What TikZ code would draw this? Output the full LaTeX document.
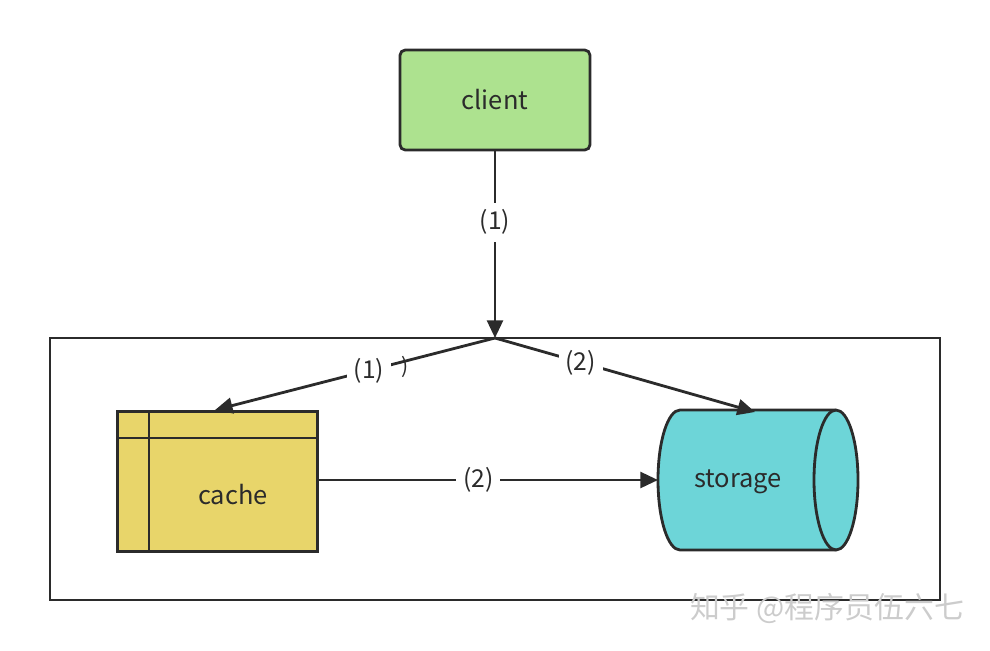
\documentclass[tikz,border=0pt]{standalone}
\usepackage{fontspec}
\setmainfont{Noto Sans CJK SC}
\usetikzlibrary{arrows.meta,shapes.geometric}
\definecolor{cl}{HTML}{ADE28F}
\definecolor{ca}{HTML}{E8D56A}
\definecolor{st}{HTML}{6DD5D8}
\definecolor{ln}{HTML}{2B2B2B}
\begin{document}
\begin{tikzpicture}[x=0.02cm,y=-0.02cm,
  box/.style={draw=ln,line width=1.6pt},
  conn/.style={draw=ln,line width=1.6pt},
  arr/.style={conn,-{Triangle[length=10pt,width=9pt]}},
  lab/.style={fill=white,inner sep=4pt,font=\fontsize{14}{16}\selectfont,text=ln},
  txt/.style={font=\fontsize{14.5}{16}\selectfont,text=ln}]
\useasboundingbox (0,0) rectangle (990,650);
\node[box,fill=cl,rounded corners=3pt,minimum width=190*0.02cm,minimum height=100*0.02cm,txt] (client) at (495,100) {client};
\draw[draw=ln,line width=1.4pt] (50,338) rectangle (940,600);
\coordinate (j) at (495,338);
\draw[arr] (client.south) -- node[lab,pos=0.38]{(1)} (j);
\node[box,fill=ca,minimum width=200*0.02cm,minimum height=140*0.02cm,anchor=north west] (cache) at (116,410) {};
\draw[conn] (116,438) -- (316,438) (149,410) -- (149,550);
\node[txt] at (233,495) {cache};
\path[box,fill=st] (680,410) -- (836,410) arc[start angle=-90,end angle=90,x radius=22,y radius=70] -- (680,550) arc[start angle=90,end angle=270,x radius=22,y radius=70] -- cycle;
\draw[box] (836,410) arc[start angle=-90,end angle=-270,x radius=22,y radius=70];
\node[txt] (storage) at (738,482) {storage};
\coordinate (stt) at (755,412);
\coordinate (cat) at (215,410);
\coordinate (stl) at (658,480);
\draw[arr] (j) -- node[lab,pos=0.45]{(1)} (cat);
\node[font=\fontsize{12}{14}\selectfont,text=ln] at (405,367) {)};
\draw[arr] (j) -- node[lab,pos=0.33]{(2)} (stt);
\draw[arr] (cache.east |- 0,480) -- node[lab,pos=0.47]{(2)} (stl);
\node[text=gray!40,font=\fontsize{17}{19}\selectfont] at (827,608) {知乎 @程序员伍六七};
\end{tikzpicture}
\end{document}
